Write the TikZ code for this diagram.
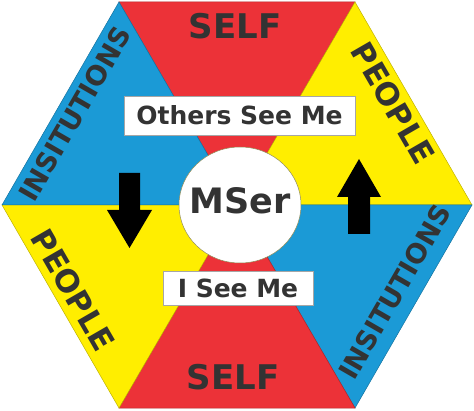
\documentclass[tikz,border=0pt]{standalone}
\usepackage{fontspec}
\setmainfont{DejaVu Sans}
\usepackage{xcolor}
\usetikzlibrary{positioning}

\definecolor{selfred}{RGB}{236,50,56}
\definecolor{instblue}{RGB}{27,154,214}
\definecolor{peopleyellow}{RGB}{255,238,0}
\definecolor{textgray}{RGB}{51,51,51}

\begin{document}
\begin{tikzpicture}[
    x=1pt, y=1pt,
    sector/.style={draw=#1!75!black, line width=0.5pt, fill=#1},
    sidetext/.style={font=\bfseries\fontsize{#1}{#1}\selectfont, text=textgray, inner sep=0pt},
    seebox/.style={rectangle, draw=gray!70, line width=0.6pt, fill=white, inner sep=0pt},
    bigarrow/.style={fill=black, draw=none}
]
\useasboundingbox (0,0) rectangle (474,410);

% Hexagon corners
\coordinate (c) at (237,205);
\coordinate (l) at (2,205);
\coordinate (tl) at (119,408);
\coordinate (tr) at (355,408);
\coordinate (r) at (472,205);
\coordinate (br) at (355,2);
\coordinate (bl) at (119,2);

% Sectors
\filldraw[sector=selfred] (c) -- (tl) -- (tr) -- cycle;
\filldraw[sector=peopleyellow] (c) -- (tr) -- (r) -- cycle;
\filldraw[sector=instblue] (c) -- (r) -- (br) -- cycle;
\filldraw[sector=selfred] (c) -- (br) -- (bl) -- cycle;
\filldraw[sector=peopleyellow] (c) -- (bl) -- (l) -- cycle;
\filldraw[sector=instblue] (c) -- (l) -- (tl) -- cycle;

% Side labels
\node[sidetext=34] (self1) at (235,384) {SELF};
\node[sidetext=34] (self2) at (233,33) {SELF};
\node[sidetext=31, rotate=-60] (people1) at (393,307) {PEOPLE};
\node[sidetext=31, rotate=-60] (people2) at (73,120) {PEOPLE};
\node[sidetext=27, rotate=60] (inst1) at (75,296) {INSITUTIONS};
\node[sidetext=27, rotate=60] (inst2) at (395,118) {INSITUTIONS};

% Arrows
\fill[bigarrow] (119,237) -- (140,237) -- (140,200) -- (152,200) -- (129.5,162)
    -- (107,200) -- (119,200) -- cycle;
\fill[bigarrow] (348,176) -- (370,176) -- (370,213) -- (381,213) -- (359,251)
    -- (337,213) -- (348,213) -- cycle;

% Centre
\filldraw[fill=white, draw=gray!60!olive, line width=0.5pt] (240,205) ellipse [x radius=61, y radius=58];
\node[sidetext=35] (mser) at (240,209.5) {MSer};

% See boxes
\node[seebox, minimum width=231, minimum height=39] (others) at (239.5,294.5) {};
\node[sidetext=25] at (others.center) {Others See Me};
\node[seebox, minimum width=150, minimum height=34] (isee) at (238,122) {};
\node[sidetext=25] at (isee.center) {I See Me};

\end{tikzpicture}
\end{document}
